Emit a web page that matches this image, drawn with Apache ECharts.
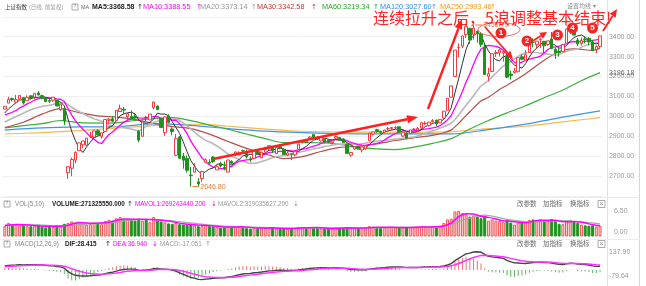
<!DOCTYPE html>
<html><head><meta charset="utf-8">
<script src="https://cdn.jsdelivr.net/npm/echarts@6/dist/echarts.min.js"></script>
<style>html,body{margin:0;padding:0;background:#fff}#c{width:646px;height:286px}</style>
</head><body><div id="c"></div>
<script>
const dates = ['2019-12-31',
'2020-01-02','2020-01-03','2020-01-06','2020-01-07','2020-01-08','2020-01-09','2020-01-10','2020-01-13','2020-01-14','2020-01-15','2020-01-16','2020-01-17','2020-01-20','2020-01-21','2020-01-22','2020-01-23',
'2020-02-03','2020-02-04','2020-02-05','2020-02-06','2020-02-07','2020-02-10','2020-02-11','2020-02-12','2020-02-13','2020-02-14','2020-02-17','2020-02-18','2020-02-19','2020-02-20','2020-02-21','2020-02-24','2020-02-25','2020-02-26','2020-02-27','2020-02-28',
'2020-03-02','2020-03-03','2020-03-04','2020-03-05','2020-03-06','2020-03-09','2020-03-10','2020-03-11','2020-03-12','2020-03-13','2020-03-16','2020-03-17','2020-03-18','2020-03-19','2020-03-20','2020-03-23','2020-03-24','2020-03-25','2020-03-26','2020-03-27','2020-03-30','2020-03-31',
'2020-04-01','2020-04-02','2020-04-03','2020-04-07','2020-04-08','2020-04-09','2020-04-10','2020-04-13','2020-04-14','2020-04-15','2020-04-16','2020-04-17','2020-04-20','2020-04-21','2020-04-22','2020-04-23','2020-04-24','2020-04-27','2020-04-28','2020-04-29','2020-04-30',
'2020-05-06','2020-05-07','2020-05-08','2020-05-11','2020-05-12','2020-05-13','2020-05-14','2020-05-15','2020-05-18','2020-05-19','2020-05-20','2020-05-21','2020-05-22','2020-05-25','2020-05-26','2020-05-27','2020-05-28','2020-05-29',
'2020-06-01','2020-06-02','2020-06-03','2020-06-04','2020-06-05','2020-06-08','2020-06-09','2020-06-10','2020-06-11','2020-06-12','2020-06-15','2020-06-16','2020-06-17','2020-06-18','2020-06-19','2020-06-22','2020-06-23','2020-06-24','2020-06-29','2020-06-30',
'2020-07-01','2020-07-02','2020-07-03','2020-07-06','2020-07-07','2020-07-08','2020-07-09','2020-07-10','2020-07-13','2020-07-14','2020-07-15','2020-07-16','2020-07-17','2020-07-20','2020-07-21','2020-07-22','2020-07-23','2020-07-24','2020-07-27','2020-07-28','2020-07-29','2020-07-30','2020-07-31',
'2020-08-03','2020-08-04','2020-08-05','2020-08-06','2020-08-07','2020-08-10','2020-08-11','2020-08-12','2020-08-13','2020-08-14','2020-08-17','2020-08-18','2020-08-19','2020-08-20','2020-08-21','2020-08-24','2020-08-25','2020-08-26','2020-08-27','2020-08-28'];

const opens = [3036.39,3066.34,3089.02,3070.91,3085.49,3094.24,3078.57,3102.85,3097.12,3117.29,
3103.64,3092.85,3078.79,3081.05,3079.58,3033.70,3037.95,2716.70,2738.95,2779.71,
2826.88,2856.82,2854.55,2897.87,2895.71,2927.42,2899.03,2924.14,2979.33,2987.19,
2978.95,3023.83,3035.69,2998.61,2999.21,2998.34,2924.64,2899.31,2994.58,2981.81,
3043.77,3050.38,2987.18,2918.92,3001.76,2936.02,2804.23,2895.82,2800.53,2788.70,
2704.79,2719.93,2670.48,2687.37,2769.23,2768.74,2794.91,2730.71,2761.72,2743.54,
2719.75,2773.59,2806.14,2806.54,2826.42,2818.87,2786.18,2789.13,2822.00,2791.74,
2832.63,2839.16,2842.02,2812.75,2847.23,2834.84,2805.07,2811.43,2806.93,2833.91,
2868.39,2878.57,2883.41,2908.00,2893.85,2876.46,2884.00,2879.81,2867.85,2889.97,
2893.80,2886.01,2860.00,2805.00,2835.00,2850.00,2831.00,2837.00,2878.00,2911.00,
2932.00,2925.00,2920.00,2937.00,2939.00,2942.00,2947.00,2901.00,2914.00,2912.00,
2934.00,2931.00,2941.00,2963.00,2953.00,2973.00,2981.00,2967.00,2991.00,3030.00,
3096.00,3200.00,3345.00,3353.00,3411.00,3442.00,3411.00,3427.00,3412.00,3348.00,
3201.00,3225.00,3315.00,3319.00,3318.00,3304.00,3212.00,3220.00,3224.00,3299.00,
3281.00,3321.00,3372.00,3360.00,3384.00,3377.00,3361.00,3389.00,3337.00,3326.00,
3325.00,3367.00,3440.00,3443.00,3383.00,3366.00,3388.00,3392.00,3374.00,3336.00,
3351.00];
const closes = [3050.12,3085.20,3083.79,3083.41,3104.80,3066.89,3094.88,3092.29,3115.57,3106.82,
3090.04,3074.08,3075.50,3095.79,3052.14,3060.75,2976.53,2746.61,2783.29,2818.09,
2866.51,2875.96,2890.49,2901.67,2926.90,2906.07,2917.01,2983.62,2984.97,2975.40,
3030.15,3039.67,3031.23,3013.05,2987.93,2991.33,2880.30,2970.93,2992.90,3011.67,
3071.68,3034.51,2943.29,2996.76,2968.52,2923.49,2887.43,2789.25,2779.64,2728.76,
2702.13,2745.62,2660.17,2722.44,2781.59,2764.91,2772.20,2747.21,2750.30,2734.52,
2780.64,2763.99,2820.76,2815.37,2825.90,2796.63,2783.05,2827.28,2811.17,2819.94,
2838.49,2852.55,2827.01,2843.98,2838.50,2808.53,2815.49,2810.02,2822.44,2860.08,
2878.14,2871.52,2895.34,2894.80,2891.56,2898.05,2870.34,2868.46,2875.42,2898.58,
2883.74,2867.92,2813.77,2817.97,2846.55,2836.80,2846.22,2852.35,2915.43,2921.40,
2923.37,2919.25,2930.80,2937.77,2943.75,2943.32,2920.90,2919.74,2890.03,2931.75,
2935.87,2939.32,2967.63,2965.27,2970.62,2979.55,2961.52,2984.67,3025.98,3090.57,
3152.81,3332.88,3345.34,3403.44,3450.59,3383.32,3443.29,3414.62,3361.30,3210.10,
3214.13,3314.15,3320.90,3333.16,3325.11,3196.77,3205.23,3227.96,3294.55,3286.82,
3310.01,3367.97,3371.69,3377.56,3386.46,3354.04,3379.25,3340.29,3319.27,3320.73,
3360.10,3438.80,3451.09,3408.13,3363.90,3380.68,3385.64,3373.58,3329.74,3350.59,
3403.81];
const lows = [3034.13,3066.34,3075.01,3065.45,3084.33,3059.13,3078.57,3083.96,3085.99,3106.64,
3085.31,3070.63,3066.39,3072.13,3051.12,3027.15,2955.34,2685.27,2698.97,2764.34,
2825.64,2839.86,2848.87,2890.32,2891.60,2903.64,2888.53,2919.32,2964.40,2970.70,
2978.95,3022.23,3011.13,2980.54,2985.07,2980.97,2869.58,2899.31,2973.97,2981.37,
3035.20,3030.23,2942.86,2901.60,2965.38,2904.88,2799.98,2784.22,2736.58,2717.17,
2646.80,2716.73,2647.58,2670.71,2764.14,2755.15,2765.45,2730.71,2743.00,2728.32,
2719.75,2758.56,2800.19,2806.20,2815.87,2788.44,2770.65,2788.45,2810.04,2790.56,
2818.78,2831.34,2815.75,2809.53,2833.80,2807.37,2800.07,2780.92,2797.50,2833.91,
2864.01,2866.16,2883.00,2887.02,2881.00,2873.00,2863.58,2866.87,2858.38,2885.00,
2883.00,2867.00,2810.00,2796.00,2830.00,2833.00,2818.00,2831.00,2878.00,2903.00,
2918.00,2913.00,2917.00,2929.00,2930.00,2934.00,2919.00,2896.00,2886.00,2911.00,
2928.00,2922.00,2935.00,2957.00,2949.00,2969.00,2951.00,2966.00,2985.00,3028.00,
3094.00,3199.00,3297.00,3343.00,3393.00,3364.00,3385.00,3370.00,3348.00,3208.00,
3176.00,3223.00,3298.00,3301.00,3275.00,3192.00,3184.00,3214.00,3221.00,3283.00,
3281.00,3321.00,3346.00,3340.00,3343.00,3318.00,3354.00,3337.00,3288.00,3300.00,
3323.00,3367.00,3413.00,3408.00,3353.00,3356.00,3366.00,3356.00,3329.00,3317.00,
3341.00];
const highs = [3051.68,3098.10,3093.82,3107.20,3105.45,3094.24,3105.61,3105.75,3115.65,3127.17,
3109.78,3093.39,3091.38,3095.79,3081.29,3061.41,3040.89,2749.00,2792.13,2824.35,
2866.51,2877.25,2890.49,2921.53,2927.07,2935.42,2917.32,2983.63,2990.60,3000.62,
3030.15,3058.90,3046.98,3013.05,3029.83,3014.45,2932.29,2970.93,3002.65,3011.67,
3074.26,3055.06,2989.21,3000.39,3010.02,2944.47,2910.88,2901.26,2815.75,2803.67,
2745.73,2764.88,2689.71,2726.89,2788.73,2783.63,2800.42,2757.44,2771.06,2773.18,
2780.64,2779.04,2823.44,2824.18,2832.84,2832.84,2797.99,2827.28,2828.58,2821.54,
2846.57,2852.59,2842.47,2844.04,2856.09,2838.51,2823.95,2815.37,2822.99,2861.09,
2878.14,2880.06,2901.98,2909.80,2901.17,2898.57,2888.00,2883.38,2878.12,2904.01,
2895.97,2890.41,2862.00,2820.00,2848.00,2851.00,2848.00,2854.00,2917.00,2922.00,
2937.00,2927.00,2933.00,2946.00,2944.00,2952.00,2949.00,2924.00,2926.00,2932.00,
2941.00,2946.00,2969.00,2975.00,2972.00,2986.00,2982.00,2985.00,3026.00,3091.00,
3153.00,3333.00,3366.00,3407.00,3456.97,3445.00,3458.79,3431.00,3422.00,3363.00,
3244.00,3316.00,3333.00,3341.00,3326.00,3310.00,3229.00,3243.00,3295.00,3313.00,
3333.00,3368.00,3391.00,3378.00,3392.00,3377.00,3380.00,3424.00,3346.00,3343.00,
3364.00,3441.00,3458.00,3451.00,3394.00,3396.00,3400.00,3397.00,3384.00,3357.00,
3406.00];
// volume in 100M
const volumes = [2.6,3.4,3.1,3.2,2.8,3.0,2.6,2.6,2.8,3.0,
2.5,2.3,2.4,2.4,2.8,2.5,3.2,3.4,3.8,3.5,
3.6,3.3,3.0,3.2,3.5,3.2,3.1,3.9,4.2,4.0,
4.6,4.9,4.3,4.5,4.4,4.0,4.5,4.0,4.2,3.6,
4.9,4.0,3.8,3.6,3.3,3.2,3.4,3.1,3.0,2.9,
3.2,2.8,2.6,2.6,2.9,2.6,2.5,2.3,2.2,2.3,
2.6,2.3,2.6,2.4,2.3,2.1,2.0,2.3,2.1,2.1,
2.3,2.3,2.1,2.0,2.0,2.0,1.9,2.0,2.1,2.4,
2.4,2.1,2.3,2.4,2.1,2.0,2.0,1.9,2.0,2.3,
2.1,2.1,2.4,2.1,2.2,2.1,2.0,2.0,2.6,2.5,
2.4,2.2,2.2,2.4,2.3,2.3,2.3,2.2,2.3,2.4,
2.3,2.3,2.6,2.5,2.4,2.5,2.3,2.5,3.4,4.3,
4.5,6.3,6.5,5.9,5.6,5.0,5.3,5.0,4.6,5.2,
4.0,4.3,4.0,3.9,3.6,4.3,3.5,3.0,3.5,3.6,
3.7,4.2,4.3,3.9,4.3,4.0,3.9,4.4,3.9,3.2,
3.1,4.1,4.2,3.7,3.4,3.0,2.8,2.7,2.8,2.5,
2.713];

const ma5 = [3016.9,3037.5,3052.8,3068.5,3081.5,3084.8,3086.8,3088.5,3094.9,3095.3,
3099.9,3095.8,3092.4,3088.4,3077.5,3071.7,3052.1,2986.4,2923.9,2877.1,
2838.2,2818.1,2846.9,2870.5,2892.3,2900.2,2908.4,2927.1,2943.7,2953.4,
2978.2,3002.8,3012.3,3017.9,3020.4,3012.6,2980.8,2968.7,2964.7,2969.4,
2985.5,3016.3,3010.8,3011.6,3003.0,2973.3,2943.9,2913.1,2869.7,2821.7,
2777.4,2749.1,2723.3,2711.8,2722.4,2734.9,2740.3,2757.7,2763.2,2753.8,
2757.0,2755.3,2770.0,2783.1,2801.3,2804.5,2808.3,2809.6,2808.8,2807.6,
2816.0,2829.9,2829.8,2836.4,2840.1,2834.1,2826.7,2823.3,2819.0,2823.3,
2837.2,2848.4,2865.5,2880.0,2886.3,2890.3,2890.0,2884.6,2880.8,2882.2,
2879.3,2878.8,2867.9,2856.4,2846.0,2836.6,2832.3,2840.0,2859.5,2874.4,
2891.8,2906.4,2922.1,2926.5,2931.0,2935.0,2935.3,2933.1,2923.5,2921.1,
2919.7,2923.3,2932.9,2948.0,2955.7,2964.5,2968.9,2972.3,2984.5,3008.5,
3043.1,3117.4,3189.5,3265.0,3337.0,3383.1,3405.2,3419.1,3410.6,3362.5,
3328.7,3302.9,3284.1,3278.5,3301.5,3298.0,3276.2,3257.6,3249.9,3242.3,
3264.9,3297.5,3326.2,3342.8,3362.7,3371.5,3373.8,3367.5,3355.9,3342.7,
3343.9,3355.8,3378.0,3395.8,3404.4,3408.5,3397.9,3382.4,3366.7,3364.0,
3368.6];
const ma10 = [3006.9,3013.7,3020.4,3028.2,3042.5,3050.9,3062.2,3070.7,3081.7,3088.4,
3092.4,3091.3,3090.5,3091.7,3086.4,3085.8,3074.0,3039.4,3006.2,2977.3,
2955.0,2935.1,2916.7,2897.2,2884.7,2869.2,2863.3,2887.0,2907.1,2922.9,
2939.2,2955.6,2969.7,2980.8,2986.9,2995.4,2991.8,2990.5,2991.3,2994.9,
2999.1,2998.6,2989.8,2988.2,2986.2,2979.4,2980.1,2962.0,2940.7,2912.4,
2875.4,2846.5,2818.2,2790.8,2772.1,2756.2,2744.7,2740.5,2737.5,2738.1,
2746.0,2747.8,2763.9,2773.2,2777.6,2780.8,2781.8,2789.8,2796.0,2804.5,
2810.3,2819.1,2819.7,2822.6,2823.9,2825.1,2828.3,2826.6,2827.7,2831.7,
2835.7,2837.6,2844.4,2849.5,2854.8,2863.8,2869.2,2875.1,2880.4,2884.3,
2884.8,2884.4,2876.3,2868.6,2864.1,2858.0,2855.6,2854.0,2858.0,2860.2,
2864.2,2869.4,2881.1,2893.0,2902.7,2913.4,2920.9,2927.6,2925.0,2926.1,
2927.4,2929.3,2933.0,2935.8,2938.4,2942.1,2946.1,2952.6,2966.3,2982.1,
3003.8,3043.2,3080.9,3124.8,3172.8,3213.1,3261.3,3304.3,3337.8,3349.8,
3355.9,3354.1,3351.6,3344.6,3332.0,3313.4,3289.6,3270.9,3264.2,3271.9,
3281.5,3286.9,3291.9,3296.4,3302.5,3318.2,3335.7,3346.9,3349.4,3352.7,
3357.7,3364.8,3372.8,3375.9,3373.6,3376.2,3376.9,3380.2,3381.3,3384.2,
3388.6];
// [index, value] readings of the slower averages
const ma20 = [[0,2970.3],[2,2989.9],[5,3015.4],[7,3032.8],[10,3049.7],[12,3055.5],[14,3064.5],[16,3068.1],[18,3044.0],[20,3023.7],[22,3004.0],[24,2988.2],[26,2974.6],[28,2956.7],[30,2947.1],[32,2943.2],[34,2935.8],[36,2927.6],[38,2949.2],[40,2969.2],[42,2979.8],[44,2986.6],[46,2986.0],[48,2966.0],[50,2937.3],[52,2904.0],[54,2879.2],[56,2862.4],[58,2839.1],[60,2810.7],[62,2791.1],[64,2774.9],[66,2763.3],[68,2766.8],[70,2778.2],[72,2791.8],[74,2800.8],[76,2805.1],[78,2811.9],[80,2823.0],[82,2832.1],[84,2839.4],[86,2848.8],[88,2854.1],[90,2860.3],[92,2860.4],[94,2859.5],[96,2862.4],[98,2869.2],[100,2874.5],[102,2878.7],[104,2883.4],[106,2888.3],[108,2891.5],[110,2895.8],[112,2907.1],[114,2920.6],[116,2933.5],[118,2947.0],[120,2965.6],[122,3007.0],[124,3055.6],[126,3103.7],[128,3152.1],[130,3179.9],[132,3216.3],[134,3252.4],[136,3275.5],[138,3301.0],[140,3318.7],[142,3321.8],[144,3317.3],[146,3312.7],[148,3306.8],[150,3319.6],[152,3332.4],[154,3338.1],[156,3356.3],[158,3365.4],[160,3373.1]];
const ma30 = [[0,2943.5],[5,2970.3],[10,3011.0],[15,3038.9],[20,3018.1],[25,3002.0],[30,2995.5],[35,2983.5],[40,2964.4],[45,2948.0],[50,2937.9],[55,2910.3],[60,2873.5],[65,2838.8],[70,2810.6],[75,2787.4],[80,2797.3],[85,2823.2],[90,2843.6],[95,2849.0],[100,2861.6],[105,2878.4],[110,2892.1],[115,2904.5],[118,2917.3],[120,2931.8],[122,2965.0],[123,2984.5],[125,3022.9],[128,3076.4],[130,3095.7],[133,3135.1],[135,3156.2],[138,3189.4],[140,3213.7],[143,3255.3],[145,3281.6],[148,3317.1],[150,3331.7],[153,3339.0],[155,3335.9],[158,3331.6],[160,3342.6]];
const ma60 = [[0,2942],[5,2953],[10,2963],[15,2979],[20,2968],[25,2966],[30,2967],[35,2979],[40,2988],[45,2993],[50,2978],[55,2956],[60,2935],[65,2911],[70,2888],[75,2868],[80,2868],[85,2867],[90,2859],[95,2844],[100,2836],[105,2833],[110,2845],[115,2864],[120,2888],[125,2936],[130,2979],[135,3017],[140,3053],[145,3093],[150,3132],[155,3179],[160,3219.3]];
const ma120 = [[0,2931],[10,2941.5],[20,2946.5],[30,2948],[40,2961.5],[50,2954],[60,2938.5],[70,2925.5],[80,2918],[90,2912.5],[100,2912],[110,2911.5],[120,2911.5],[130,2933.5],[140,2960.5],[150,2995.5],[160,3027.6]];
const ma250 = [[0,2911],[10,2918],[20,2928],[30,2940],[40,2953],[50,2960],[55,2958],[60,2950],[70,2936],[80,2925],[90,2921],[100,2920],[110,2920],[118,2921],[125,2930],[130,2938],[140,2950],[150,2972],[160,2993.5]];
const mavol1 = [[0,2.8],[4,3.02],[8,2.76],[12,2.6],[16,2.66],[20,3.5],[24,3.32],[28,3.58],[32,4.4],[36,4.34],[40,4.24],[44,3.92],[48,3.2],[52,2.9],[56,2.64],[60,2.38],[64,2.44],[68,2.16],[72,2.18],[76,2.0],[80,2.16],[84,2.26],[88,2.0],[92,2.18],[96,2.16],[100,2.3],[104,2.3],[108,2.28],[112,2.38],[116,2.46],[118,2.62],[120,3.4],[122,5.0],[124,5.76],[126,5.66],[128,5.1],[130,4.82],[132,4.42],[134,3.96],[136,3.86],[138,3.58],[140,3.46],[142,3.86],[144,4.08],[146,4.08],[148,4.1],[150,3.7],[152,3.7],[154,3.7],[156,3.42],[158,2.94],[160,2.69]];
const mavol2 = [[0,2.8],[9,2.91],[14,2.64],[19,2.88],[24,3.3],[29,3.5],[34,4.11],[39,4.3],[44,3.99],[49,3.52],[54,2.97],[59,2.6],[64,2.41],[69,2.28],[74,2.13],[79,2.11],[84,2.17],[89,2.15],[94,2.11],[99,2.21],[104,2.27],[109,2.3],[114,2.36],[117,2.41],[119,2.71],[121,3.33],[123,4.06],[125,4.63],[127,5.18],[129,5.39],[131,5.14],[134,4.49],[137,4.04],[140,3.74],[144,3.83],[148,4.02],[152,3.9],[156,3.58],[160,3.19]];

const dif = [31.4,34.9,37.1,38.5,40.7,39.1,39.5,39.2,40.4,40.2,
38.2,34.9,32.1,31.1,26.5,23.3,13.8,-12.1,-29.4,-39.8,
-43.6,-45.4,-45.1,-43.5,-39.7,-37.9,-35.2,-27.4,-20.9,-16.3,
-8.1,-0.9,4.1,6.6,6.4,6.5,-2.4,-2.1,-0.1,3.0,
10.1,12.6,7.2,7.1,4.7,-0.8,-8.0,-21.3,-32.3,-44.6,
-55.9,-60.6,-70.4,-72.3,-68.3,-65.7,-62.3,-61.0,-58.9,-58.0,
-52.9,-49.6,-41.9,-35.9,-29.9,-27.2,-25.8,-21.0,-18.2,-15.1,
-11.1,-6.6,-5.1,-2.5,-0.9,-2.0,-2.3,-2.9,-2.4,1.0,
5.2,7.8,11.7,14.6,16.4,18.1,17.1,15.9,15.4,16.7,
16.3,14.5,8.7,4.3,3.1,1.4,0.8,0.8,5.8,10.1,
13.5,15.8,18.2,20.5,22.6,23.9,22.8,21.7,18.1,18.5,
18.9,19.2,21.6,23.0,24.2,25.6,25.0,26.1,29.9,37.7,
48.4,70.5,88.1,105.4,121.6,127.5,135.5,137.9,134.0,117.3,
103.2,99.0,95.1,92.0,87.8,73.3,61.8,53.9,52.3,49.9,
49.3,52.9,55.4,57.2,58.7,56.6,56.3,52.3,47.0,42.3,
41.4,46.4,50.8,50.2,45.7,43.0,40.7,37.5,31.1,27.4,
28.415];
const dea = [23.9,26.1,28.3,30.3,32.4,33.7,34.9,35.8,36.7,37.4,
37.5,37.0,36.0,35.0,33.3,31.3,27.8,19.8,10.0,0.0,
-8.7,-16.0,-21.9,-26.2,-28.9,-30.7,-31.6,-30.8,-28.8,-26.3,
-22.6,-18.3,-13.8,-9.7,-6.5,-3.9,-3.6,-3.3,-2.7,-1.6,
0.8,3.2,4.0,4.6,4.6,3.5,1.2,-3.3,-9.1,-16.2,
-24.1,-31.4,-39.2,-45.9,-50.3,-53.4,-55.2,-56.3,-56.9,-57.1,
-56.2,-54.9,-52.3,-49.0,-45.2,-41.6,-38.4,-34.9,-31.6,-28.3,
-24.9,-21.2,-18.0,-14.9,-12.1,-10.1,-8.5,-7.4,-6.4,-4.9,
-2.9,-0.8,1.7,4.3,6.7,9.0,10.6,11.7,12.4,13.3,
13.9,14.0,12.9,11.2,9.6,8.0,6.5,5.4,5.4,6.4,
7.8,9.4,11.2,13.0,14.9,16.7,18.0,18.7,18.6,18.6,
18.6,18.7,19.3,20.0,20.9,21.8,22.5,23.2,24.5,27.2,
31.4,39.2,49.0,60.3,72.6,83.5,93.9,102.7,109.0,110.6,
109.2,107.1,104.7,102.2,99.3,94.1,87.6,80.9,75.2,70.1,
66.0,63.4,61.8,60.9,60.4,59.7,59.0,57.7,55.5,52.9,
50.6,49.7,49.9,50.0,49.1,47.9,46.5,44.7,42.0,39.1,
36.94];
const macdHist = [15.0,17.6,17.7,16.3,16.7,10.6,9.2,6.9,7.4,5.6,
1.3,-4.2,-7.9,-7.9,-13.6,-16.1,-28.0,-63.9,-78.7,-79.64,
-69.8,-58.7,-46.5,-34.6,-21.6,-14.5,-7.3,6.7,15.8,20.0,
29.1,34.8,35.9,32.6,25.8,20.7,2.4,2.4,5.1,9.0,
18.7,19.0,6.5,5.1,0.2,-8.7,-18.4,-36.1,-46.5,-56.9,
-63.5,-58.4,-62.4,-53.0,-35.9,-24.6,-14.3,-9.2,-4.2,-1.8,
6.8,10.7,20.8,26.3,30.6,28.8,25.2,27.9,26.8,26.4,
27.6,29.2,25.7,24.7,22.4,16.1,12.5,8.9,8.0,11.9,
16.1,17.1,19.9,20.5,19.3,18.3,13.0,8.5,6.0,6.8,
4.8,1.0,-8.5,-13.8,-12.9,-13.1,-11.5,-9.2,0.6,7.5,
11.5,12.7,14.1,15.0,15.2,14.3,9.7,5.9,-0.9,-0.2,
0.5,1.0,4.5,5.8,6.7,7.6,5.1,5.8,10.8,21.1,
34.0,62.6,78.1,90.3,98.1,88.0,83.1,70.4,50.0,13.3,
-11.8,-16.2,-19.2,-20.4,-23.0,-41.6,-51.7,-54.0,-45.6,-40.4,
-33.2,-20.8,-12.7,-7.3,-3.5,-6.1,-5.4,-10.6,-17.1,-21.1,
-18.4,-6.7,1.7,0.5,-6.9,-9.9,-11.5,-14.3,-21.7,-23.3,
-17.051];

const priceTicks = [2700,2800,2900,3000,3100,3200,3300,3400];
const volTicks = [0, 6.5];
const macdTicks = [-79.64, 137.90];
const priceMarkLabel = '3196.18';
const headerMain = [
  ['上证指数','#333'],['(日线, 前复权)','#999'],['MA','#666'],
  ['MA5:3368.58','#222'],['MA10:3388.55','#ff00ff'],['MA20:3373.14','#999'],['MA30:3342.58','#c03434'],
  ['MA60:3219.34','#28a428'],['MA120:3027.60','#2f8ee6'],['MA250:2993.46','#f59a1e']
];
const headerVol = [['VOL(5,10)','#888'],['VOLUME:271325550.000','#222'],['MAVOL1:269243440.200','#ff00ff'],['MAVOL2:319035627.200','#999']];
const headerMacd = [['MACD(12,26,9)','#888'],['DIF:28.415','#222'],['DEA:36.940','#ff00ff'],['MACD:-17.051','#999']];
const note = '连续拉升之后，5浪调整基本结束!';

const UP = '#f03c3c', DOWN = '#1d931d';
const FONT = 'Liberation Sans, Noto Sans CJK SC, sans-serif';
const chart = echarts.init(document.getElementById('c'), null, {renderer:'canvas', width:646, height:286});
const kData = dates.map((d,i)=>[opens[i],closes[i],lows[i],highs[i]]);
const isUp = i => closes[i] >= opens[i];
const volData = volumes.map((v,i)=>({value:v, itemStyle: isUp(i) ? {color:'#fbd3cf', borderColor:'#ee5a5a', borderWidth:1} : {color:DOWN, borderColor:DOWN, borderWidth:1}}));
const gl = 2.94, gr = 44.1;
function xa(i){return {type:'category', gridIndex:i, data:dates, boundaryGap:true, axisLine:{show:false}, axisTick:{show:false}, axisLabel:{show:false}, splitLine:{show:false}};}
function lineS(data, color, xi, w, smooth){return {type:'line', data, xAxisIndex:xi, yAxisIndex:xi, symbol:'none', smooth: smooth||false, lineStyle:{color, width:w||1}, z:3, silent:true};}

function T(x,y,text,fill,size,weight,family){return {type:'text', x, y, silent:true, z:50, style:{text, fill, fontSize:size||7, fontWeight:weight||'normal', fontFamily:family||FONT, verticalAlign:'middle', align:'left'}};}
function box(x,y){return [{type:'rect', silent:true, z:50, shape:{x:x,y:y-3,width:6,height:6}, style:{fill:'#fff', stroke:'#aaa', lineWidth:1}}, T(x+1.5,y,'?','#888',5)];}
function arrow(x1,y1,x2,y2,w,hl,hw){
  const dx=x2-x1, dy=y2-y1, L=Math.hypot(dx,dy), ux=dx/L, uy=dy/L;
  const bx=x2-ux*hl, by=y2-uy*hl;
  return [{type:'line', silent:true, z:60, shape:{x1,y1,x2:bx,y2:by}, style:{stroke:'#ff2020', lineWidth:w}},
          {type:'polygon', silent:true, z:60, shape:{points:[[x2,y2],[bx-uy*hw,by+ux*hw],[bx+uy*hw,by-ux*hw]]}, style:{fill:'#ff2020'}}];
}
function num(x,y,t){return [{type:'circle', silent:true, z:61, shape:{cx:x,cy:y,r:5.5}, style:{fill:'#f32626'}}, {type:'text', silent:true, z:62, x, y, style:{text:t, fill:'#fff', fontSize:8, fontWeight:'bold', fontFamily:FONT, align:'center', verticalAlign:'middle'}}];}

const g = [];
const hmX = [5,29,81,92,143,200,257,322,380,440];
const hmSize = [5.5,5.5,5.5,7,7.3,7.3,7.3,7.3,7.3,7.3];
headerMain.forEach((h,i)=>g.push(T(hmX[i],7,h[0],h[1],hmSize[i],i===3?'bold':'normal')));
g.push(...box(72,7));
[[137,'#222'],[196,'#ff00ff'],[251,'#999'],[311,'#c03434'],[373,'#28a428'],[431,'#2f8ee6'],[490,'#f59a1e']].forEach(a=>g.push(T(a[0],7,'↑',a[1],7,'normal','DejaVu Sans')));
g.push(T(567,6,'设置均线 ▾','#888',6));
g.push(...box(4,204));
const hvX=[15,52,135,218];
headerVol.forEach((h,i)=>g.push(T(hvX[i],204,h[0],h[1],6.3,i===1?'bold':'normal')));
[[127,'↑','#222'],[211,'↓','#ff00ff'],[293,'↓','#999']].forEach(a=>g.push(T(a[0],204,a[1],a[2],7,'normal','DejaVu Sans')));
g.push(...box(4,244));
const hcX=[15,65,113,160];
headerMacd.forEach((h,i)=>g.push(T(hcX[i],244,h[0],h[1],6.3,i===1?'bold':'normal')));
[[105,'↑','#222'],[152,'↓','#ff00ff'],[205,'↑','#999']].forEach(a=>g.push(T(a[0],244,a[1],a[2],7,'normal','DejaVu Sans')));
[204,244].forEach(y=>{g.push(T(517,y,'改参数','#666',6.5)); g.push(T(543,y,'加指标','#666',6.5)); g.push(T(570,y,'换指标','#666',6.5));
  g.push({type:'rect', silent:true, z:50, shape:{x:598,y:y-3.5,width:7,height:7}, style:{fill:'#fff', stroke:'#aaa', lineWidth:1}}); g.push({type:'text', silent:true, z:51, x:601.5, y, style:{text:'×', fill:'#888', fontSize:7, align:'center', verticalAlign:'middle', fontFamily:FONT}});});
g.push({type:'line', silent:true, z:1, shape:{x1:607.5,y1:0,x2:607.5,y2:286}, style:{stroke:'#e2e2e2', lineWidth:1}});
g.push({type:'line', silent:true, z:1, shape:{x1:639.5,y1:0,x2:639.5,y2:286}, style:{stroke:'#d8d8d8', lineWidth:1}});
g.push({type:'line', silent:true, z:1, shape:{x1:0,y1:197.5,x2:640,y2:197.5}, style:{stroke:'#ececec', lineWidth:1}});
g.push({type:'line', silent:true, z:1, shape:{x1:0,y1:239.5,x2:640,y2:239.5}, style:{stroke:'#ececec', lineWidth:1}});
g.push(T(609,73,priceMarkLabel,'#666',7));
g.push(...arrow(213,159,418,117,2.6,11,4));
g.push(...arrow(428,109,462,19,2.4,10,4));
g.push(...arrow(485,27,513,59,1.8,8,3.5));
g.push(...arrow(531,42,547,32,1.8,7,3.5));
g.push(...arrow(603,31,617,9,1.8,8,3.5));
g.push({type:'ellipse', silent:true, z:59, shape:{cx:499,cy:29.5,rx:21,ry:7}, style:{fill:'none', stroke:'#f04040', lineWidth:0.8}});
g.push(...num(501,33,'1'), ...num(527,41,'2'), ...num(557.5,35,'3'), ...num(572.5,28,'4'), ...num(592.5,28,'5'));
g.push({type:'text', silent:true, z:70, x:373, y:18, style:{text:note, fill:'#ff2424', fontSize:16, fontFamily:'Noto Sans CJK SC', verticalAlign:'middle', align:'left'}});

const option = {
  animation:false, backgroundColor:'#fff',
  grid:[
    {left:gl, right:gr, top:16.8, height:179.1},
    {left:gl, right:gr, top:210.7, height:25.8},
    {left:gl, right:gr, top:251.7, height:28.9}
  ],
  xAxis:[xa(0),xa(1),xa(2)],
  yAxis:[
    {gridIndex:0, position:'right', min:2600, max:3500, interval:100, axisLine:{show:false}, axisTick:{show:false},
     splitLine:{show:true, lineStyle:{color:'#efefef', width:1}},
     axisLabel:{margin:7, fontSize:7, color:'#999', fontFamily:FONT, formatter:v=>priceTicks.includes(Math.round(v))?v.toFixed(2):''}},
    {gridIndex:1, position:'right', min:volTicks[0], max:volTicks[1], interval:volTicks[1]-volTicks[0], axisLine:{show:false}, axisTick:{show:false}, splitLine:{show:false},
     axisLabel:{margin:12, fontSize:7, color:'#999', fontFamily:FONT, formatter:v=> v<1 ? '{lo|'+v.toFixed(2)+'}' : '{n|'+v.toFixed(2)+'}', rich:{lo:{padding:[0,0,8,0], fontSize:7, color:'#999'}, n:{fontSize:7, color:'#999'}}}},
    {gridIndex:2, position:'right', min:macdTicks[0], max:macdTicks[1], interval:macdTicks[1]-macdTicks[0], axisLine:{show:false}, axisTick:{show:false}, splitLine:{show:false},
     axisLabel:{margin:7, fontSize:7, color:'#999', fontFamily:FONT, formatter:v=> v<0 ? '{lo|'+v.toFixed(2)+'}' : '{n|'+v.toFixed(2)+'}', rich:{lo:{padding:[0,0,9,0], fontSize:7, color:'#999'}, n:{fontSize:7, color:'#999'}}}}
  ],
  series:[
    {type:'candlestick', data:kData, xAxisIndex:0, yAxisIndex:0, barWidth:3, z:4,
     itemStyle:{color:'#ffffff', color0:DOWN, borderColor:UP, borderColor0:DOWN, borderWidth:1},
     markPoint:{symbol:'rect', symbolSize:[7,1], symbolOffset:[5,0], silent:true,
       itemStyle:{color:'#f07a30'},
       label:{show:true, position:'right', distance:1, color:'#f07a30', fontSize:7, fontFamily:FONT, formatter:p=>Number(p.value).toFixed(2)},
       data:[{type:'max', valueDim:'highest'},{type:'min', valueDim:'lowest'}]}},
    lineS(ma250,'#f5b94a',0,1.2,0.3),
    lineS(ma120,'#3f94e8',0,1.2,0.3),
    lineS(ma60,'#3cae3c',0,1.2,0.3),
    lineS(ma30,'#b5504a',0,1.2,0.3),
    lineS(ma20,'#b8b8b8',0,1.6,0.3),
    lineS(ma10,'#ff00ff',0,1.3),
    lineS(ma5,'#333333',0,1),
    {type:'bar', data:volData, xAxisIndex:1, yAxisIndex:1, barWidth:3, z:2},
    lineS(mavol2,'#a8a8a8',1,1.3,0.3),
    lineS(mavol1,'#ff00ff',1,1.5,0.3),
    {type:'bar', data:macdHist, xAxisIndex:2, yAxisIndex:2, barWidth:1, z:2,
     itemStyle:{color:p=>p.value>=0?'#f07070':'#5cb85c'}},
    lineS(dif,'#444444',2,1.4),
    lineS(dea,'#ff33ff',2,1.5)
  ],
  graphic: g
};
chart.setOption(option);
</script>
</body></html>
